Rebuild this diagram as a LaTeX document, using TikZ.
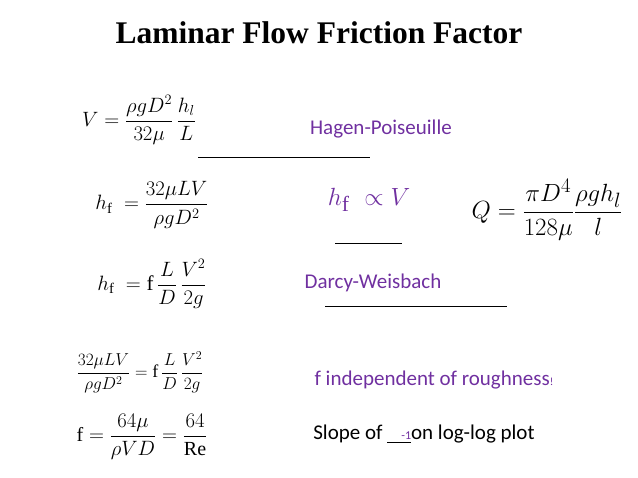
\documentclass[tikz,border=0pt]{standalone}
\usepackage{amsmath}
\usepackage{fontspec}
\setmainfont{Liberation Serif}
\newfontfamily\calfnt{Carlito}
\definecolor{pur}{HTML}{7030A0}
\begin{document}
\begin{tikzpicture}[x=1pt,y=-1pt,
  eq/.style={inner sep=0pt,anchor=center},
  lab/.style={inner sep=0pt,font=\calfnt\fontsize{21}{23}\selectfont,text=pur},
  rule/.style={draw=black,line width=0.6pt}]
\useasboundingbox (0,0) rectangle (638,478);
\node[eq,font=\bfseries\fontsize{31.5}{34}\selectfont] (title) at (319,33) {Laminar Flow Friction Factor};
\node[eq,font=\fontsize{21}{24}\selectfont] (e1) at (139,120) {$V=\dfrac{\rho g D^2}{32\mu}\,\dfrac{h_l}{L}$};
\node[lab] (hp) at (381,129) {Hagen-Poiseuille};
\coordinate (l1a) at (198,157); \coordinate (l1b) at (370,157);
\draw[rule] (l1a) -- (l1b);
\node[eq,font=\fontsize{21}{24}\selectfont] (e2) at (152,205) {$h_{\mathrm f}\;=\dfrac{32\mu L V}{\rho g D^2}$};
\node[eq,font=\fontsize{31}{34}\selectfont,text=pur] (prop) at (369,200) {$h_{\mathrm f}\ \propto V$};
\coordinate (l2a) at (335,243); \coordinate (l2b) at (402,243);
\draw[rule] (l2a) -- (l2b);
\node[eq,font=\fontsize{28}{30}\selectfont] (q) at (547,210) {$Q=\dfrac{\pi D^4}{128\mu}\dfrac{\rho g h_l}{l}$};
\node[eq,font=\fontsize{21}{24}\selectfont] (e3) at (152,284) {$h_{\mathrm f}\;=\mathrm{f}\,\dfrac{L}{D}\,\dfrac{V^2}{2g}$};
\node[lab] (dw) at (373,283) {Darcy-Weisbach};
\coordinate (l3a) at (325,306); \coordinate (l3b) at (507,306);
\draw[rule] (l3a) -- (l3b);
\node[eq,font=\fontsize{18}{21}\selectfont] (e4) at (140,372) {$\dfrac{32\mu L V}{\rho g D^2}=\mathrm{f}\,\dfrac{L}{D}\,\dfrac{V^2}{2g}$};
\node[lab] (ind) at (434,380) {f independent of roughness{\fontsize{11}{12}\selectfont!}};
\node[eq,font=\fontsize{20}{23}\selectfont] (e5) at (142,437) {$\mathrm{f}=\dfrac{64\mu}{\rho V D}=\dfrac{64}{\mathrm{Re}}$};
\node[lab,text=black] (slope) at (424,434) {Slope of \underline{\hspace{14pt}{\fontsize{12}{13}\selectfont\color{pur}-1}}on log-log plot};
\end{tikzpicture}
\end{document}
